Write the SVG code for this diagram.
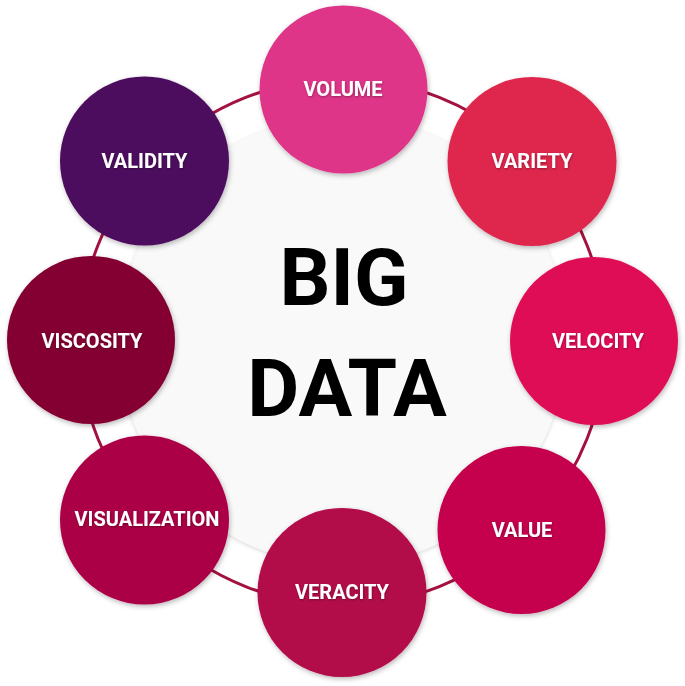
<svg xmlns="http://www.w3.org/2000/svg" width="685" height="686" viewBox="0 0 685 686">
  <defs>
    <filter id="sh" x="-20%" y="-20%" width="140%" height="140%">
      <feDropShadow dx="1" dy="2" stdDeviation="2.5" flood-color="#000" flood-opacity="0.28"/>
    </filter>
    <filter id="shc" x="-10%" y="-10%" width="120%" height="120%">
      <feDropShadow dx="0" dy="1" stdDeviation="2" flood-color="#000" flood-opacity="0.18"/>
    </filter>
    <filter id="tsh" x="-10%" y="-30%" width="120%" height="160%">
      <feDropShadow dx="0.5" dy="1" stdDeviation="0.8" flood-color="#000" flood-opacity="0.35"/>
    </filter>
  </defs>
  <style>
    .sat { filter: url(#sh); }
    .lbl { font-family: Roboto, "Liberation Sans", sans-serif; font-weight: bold; font-size: 20px; fill: #ffffff; text-anchor: middle; filter: url(#tsh); }
    .big { font-family: Roboto, "Liberation Sans", sans-serif; font-weight: bold; font-size: 80px; fill: #000000; text-anchor: middle; }
    .ring { fill: none; stroke: #a3123f; stroke-width: 3; }
  </style>
  <rect width="685" height="686" fill="#ffffff"/>
  <g id="connectors">
    <circle class="ring" cx="342.5" cy="342" r="263"/>
  </g>
  <g id="center">
    <circle cx="342.5" cy="341" r="224" fill="#f9f9f9" filter="url(#shc)"/>
    <text class="big" x="344" y="305">BIG</text>
    <text class="big" x="347" y="416">DATA</text>
  </g>
  <g id="volume">
    <circle class="sat" cx="343.5" cy="89.5" r="84" fill="#de3588"/>
    <text class="lbl" x="343" y="95.5">VOLUME</text>
  </g>
  <g id="variety">
    <circle class="sat" cx="532" cy="161.5" r="84.5" fill="#df284e"/>
    <text class="lbl" x="532" y="167.5">VARIETY</text>
  </g>
  <g id="velocity">
    <circle class="sat" cx="594" cy="341" r="84" fill="#df0e56"/>
    <text class="lbl" x="598" y="347.5">VELOCITY</text>
  </g>
  <g id="value">
    <circle class="sat" cx="521.5" cy="530" r="84" fill="#c5054e"/>
    <text class="lbl" x="522" y="537">VALUE</text>
  </g>
  <g id="veracity">
    <circle class="sat" cx="342" cy="592.5" r="84.5" fill="#b20849"/>
    <text class="lbl" x="342" y="599">VERACITY</text>
  </g>
  <g id="visualization">
    <circle class="sat" cx="144.5" cy="520" r="84.5" fill="#ab0645"/>
    <text class="lbl" x="147" y="526">VISUALIZATION</text>
  </g>
  <g id="viscosity">
    <circle class="sat" cx="91" cy="340" r="84" fill="#850530"/>
    <text class="lbl" x="92" y="347.5">VISCOSITY</text>
  </g>
  <g id="validity">
    <circle class="sat" cx="144.5" cy="161" r="84.5" fill="#4e0c5f"/>
    <text class="lbl" x="144.5" y="167.5">VALIDITY</text>
  </g>
</svg>
